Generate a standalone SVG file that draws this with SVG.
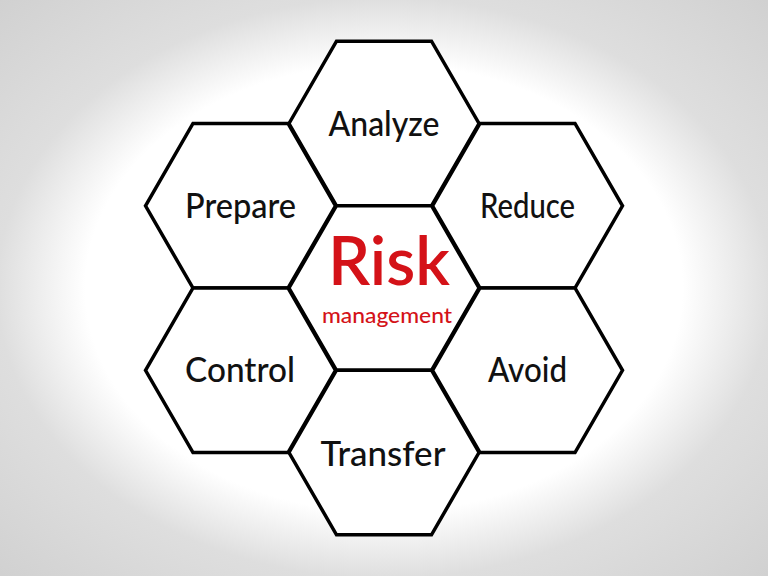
<svg xmlns="http://www.w3.org/2000/svg" width="768" height="576" viewBox="0 0 768 576">
<defs>
<radialGradient id="bg" cx="0.5" cy="0.5" r="0.72">
<stop offset="0" stop-color="#ffffff"/>
<stop offset="0.54" stop-color="#ffffff"/>
<stop offset="0.7" stop-color="#dedede"/>
<stop offset="1" stop-color="#d0d0d0"/>
</radialGradient>
<polygon id="hex" points="-95,0 -47.5,-82.3 47.5,-82.3 95,0 47.5,82.3 -47.5,82.3"/>
</defs>
<style>
.hex{fill:#ffffff;stroke:#000000;stroke-width:3.5;stroke-linejoin:miter}
.lbl{font-family:"Lato","Liberation Sans",sans-serif;font-size:34px;font-weight:500;fill:#111111;text-anchor:middle}
.risk{font-family:"Lato","Liberation Sans",sans-serif;font-size:68px;font-weight:600;fill:#d41218;text-anchor:middle}
.mgmt{font-family:"Lato","Liberation Sans",sans-serif;font-size:22px;font-weight:500;fill:#d41218;text-anchor:middle}
</style>
<rect x="0" y="0" width="768" height="576" fill="url(#bg)"/>
<g id="analyze"><use href="#hex" class="hex" x="384" y="123.5"/><text class="lbl" x="384" y="136" textLength="111" lengthAdjust="spacingAndGlyphs">Analyze</text></g>
<g id="prepare"><use href="#hex" class="hex" x="240.5" y="205.8"/><text class="lbl" x="240.5" y="218" textLength="111" lengthAdjust="spacingAndGlyphs">Prepare</text></g>
<g id="reduce"><use href="#hex" class="hex" x="527.5" y="205.8"/><text class="lbl" x="527.5" y="218" textLength="95" lengthAdjust="spacingAndGlyphs">Reduce</text></g>
<g id="risk"><use href="#hex" class="hex" x="384" y="288"/><text class="risk" x="389" y="285" textLength="122" lengthAdjust="spacingAndGlyphs">Risk</text><text class="mgmt" x="387" y="323" textLength="130" lengthAdjust="spacingAndGlyphs">management</text></g>
<g id="control"><use href="#hex" class="hex" x="240.5" y="370.3"/><text class="lbl" x="240" y="382" textLength="110" lengthAdjust="spacingAndGlyphs">Control</text></g>
<g id="avoid"><use href="#hex" class="hex" x="527.5" y="370.3"/><text class="lbl" x="527.5" y="382" textLength="79" lengthAdjust="spacingAndGlyphs">Avoid</text></g>
<g id="transfer"><use href="#hex" class="hex" x="384" y="452.5"/><text class="lbl" x="383" y="466" textLength="125" lengthAdjust="spacingAndGlyphs">Transfer</text></g>
<g id="connectors"></g>
</svg>
